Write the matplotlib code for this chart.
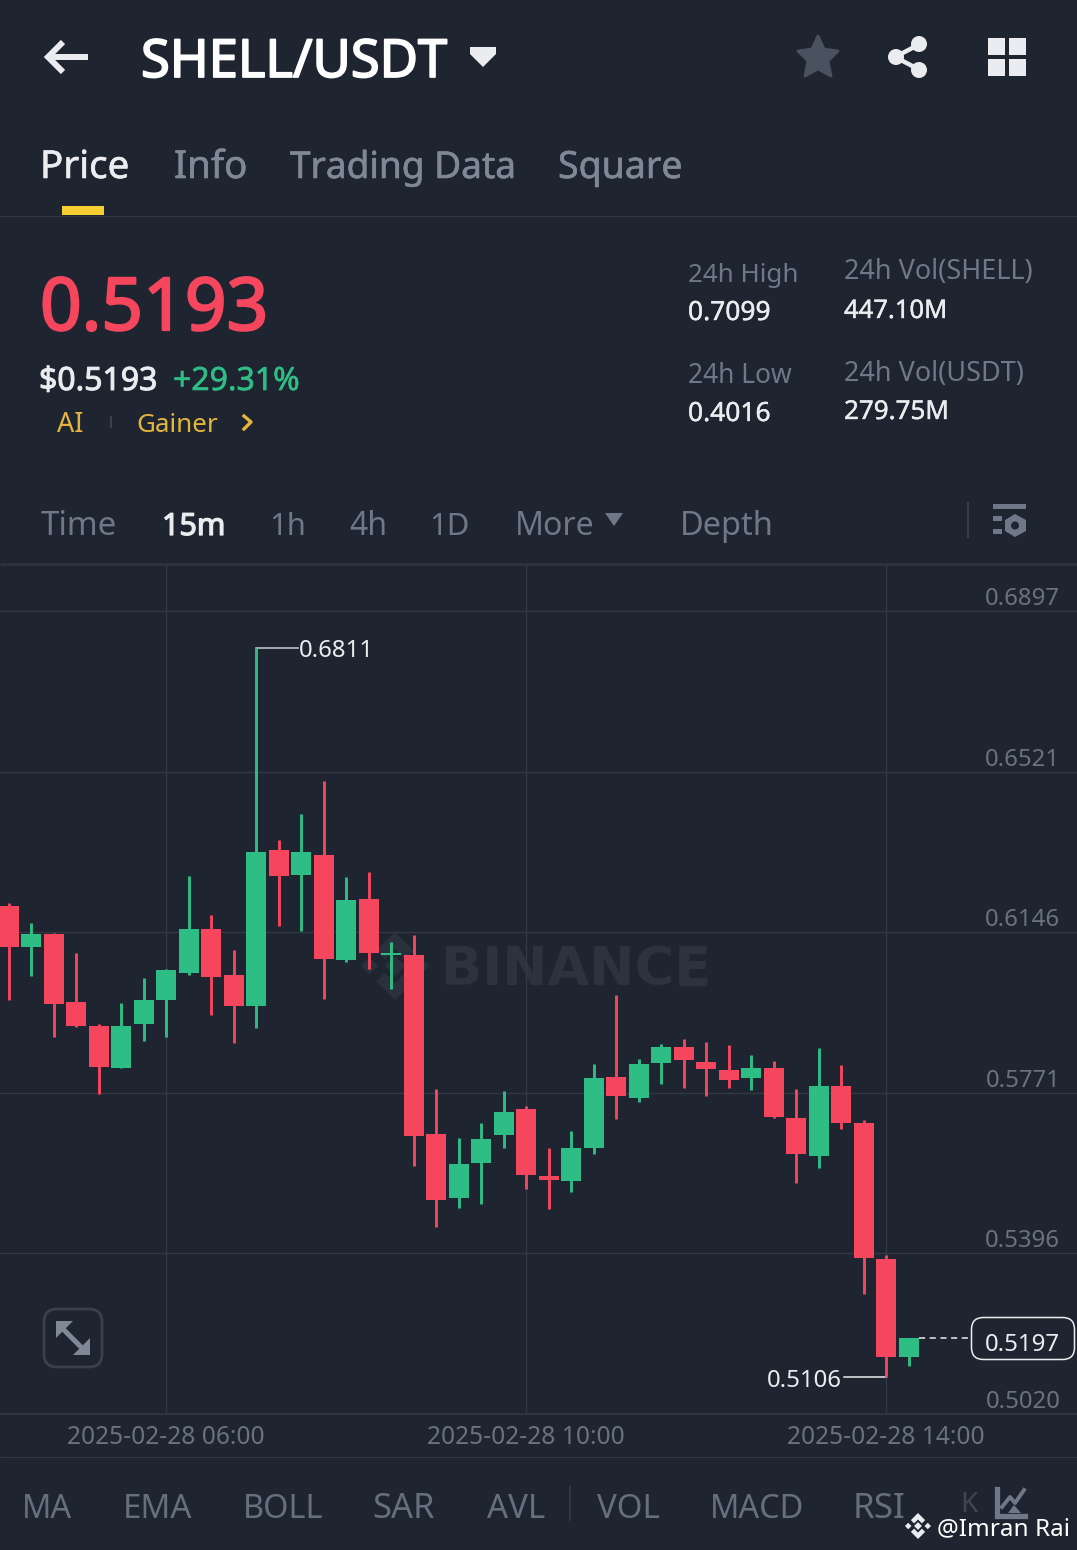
import matplotlib
matplotlib.use('Agg')
import matplotlib.pyplot as plt
import matplotlib.patheffects as pe
from matplotlib.patches import Polygon, Circle, Rectangle, FancyBboxPatch

plt.rcParams['font.family'] = ['Noto Sans', 'DejaVu Sans']

# 15m candles, oldest first
opens = [0.6207, 0.6112, 0.6142, 0.5984, 0.5926, 0.5830, 0.5932, 0.5988, 0.6051, 0.6154, 0.6046,
         0.5974, 0.6338, 0.6281, 0.6327, 0.6082, 0.6224, 0.6093, 0.6093, 0.5674, 0.5525, 0.5607,
         0.5673, 0.5732, 0.5577, 0.5565, 0.5642, 0.5807, 0.5759, 0.5840, 0.5879, 0.5844, 0.5824,
         0.5805, 0.5829, 0.5711, 0.5623, 0.5786, 0.5700, 0.5382, 0.5154]
closes = [0.6112, 0.6142, 0.5978, 0.5927, 0.5831, 0.5928, 0.5987, 0.6058, 0.6154, 0.6041, 0.5974,
          0.6335, 0.6277, 0.6334, 0.6084, 0.6221, 0.6099, 0.6099, 0.5671, 0.5520, 0.5604, 0.5662,
          0.5727, 0.5579, 0.5567, 0.5642, 0.5805, 0.5764, 0.5839, 0.5879, 0.5848, 0.5826, 0.5801,
          0.5830, 0.5714, 0.5627, 0.5787, 0.5700, 0.5385, 0.5154, 0.5197]
highs = [0.6215, 0.6168, 0.6145, 0.6098, 0.5932, 0.5980, 0.6039, 0.6060, 0.6277, 0.6186, 0.6105,
         0.6811, 0.6361, 0.6423, 0.6500, 0.6275, 0.6287, 0.6124, 0.6140, 0.5779, 0.5665, 0.5700,
         0.5775, 0.5740, 0.5642, 0.5682, 0.5839, 0.5999, 0.5850, 0.5886, 0.5897, 0.5889, 0.5882,
         0.5859, 0.5846, 0.5779, 0.5875, 0.5835, 0.5707, 0.5392, 0.5197]
lows = [0.5988, 0.6045, 0.5901, 0.5925, 0.5768, 0.5829, 0.5893, 0.5901, 0.6046, 0.5954, 0.5888,
        0.5923, 0.6161, 0.6149, 0.5991, 0.6077, 0.6060, 0.6013, 0.5600, 0.5458, 0.5501, 0.5512,
        0.5643, 0.5547, 0.5500, 0.5540, 0.5627, 0.5710, 0.5750, 0.5792, 0.5782, 0.5764, 0.5783,
        0.5778, 0.5712, 0.5561, 0.5594, 0.5686, 0.5301, 0.5106, 0.5132]

price_ticks = [0.5020, 0.5396, 0.5771, 0.6146, 0.6521, 0.6897]
time_ticks = [7, 23, 39]
time_labels = ['2025-02-28 06:00', '2025-02-28 10:00', '2025-02-28 14:00']
last_price = 0.5197

tab_labels = ['Price', 'Info', 'Trading Data', 'Square']
interval_labels = ['Time', '15m', '1h', '4h', '1D', 'More', 'Depth']
indicator_labels = ['MA', 'EMA', 'BOLL', 'SAR', 'AVL', 'VOL', 'MACD', 'RSI']

BG = '#1E2530'
GRID = '#323944'
RED = '#F6465D'
GREEN = '#2EBD85'
TICK = '#6A7280'
GREY = '#666F7D'
TAB = '#7F8896'
STAT = '#6F7888'
WHITE = '#EAECEF'
GOLD = '#E3B53C'

fig = plt.figure(figsize=(10.77, 15.5), dpi=100, facecolor=BG)

# page axes in pixels, y going down
ui = fig.add_axes([0, 0, 1, 1], zorder=0)
ui.set_xlim(0, 1077)
ui.set_ylim(1550, 0)
ui.axis('off')


def label(x, y, s, px, color, stroke=0, ha='left', **kw):
    t = ui.text(x, y, s, fontsize=px * 0.72, color=color, ha=ha, va='baseline', **kw)
    # this Noto Sans has no heavier cut, thicken it by hand
    if stroke:
        t.set_path_effects([pe.withStroke(linewidth=stroke * 0.72, foreground=color)])
    return t


def hline(x0, x1, y, color=GRID, lw=1.0):
    ui.plot([x0, x1], [y, y], color=color, lw=lw * 0.72, solid_capstyle='butt')


def logo(cx, cy, r, color):
    ui.add_patch(Polygon([(cx - r * .3, cy), (cx, cy - r * .3), (cx + r * .3, cy), (cx, cy + r * .3)], color=color, lw=0))
    ui.add_patch(Polygon([(cx - r, cy), (cx - r * .75, cy - r * .25), (cx - r * .5, cy), (cx - r * .75, cy + r * .25)], color=color, lw=0))
    ui.add_patch(Polygon([(cx + r, cy), (cx + r * .75, cy - r * .25), (cx + r * .5, cy), (cx + r * .75, cy + r * .25)], color=color, lw=0))
    for s in (-1, 1):
        ui.add_patch(Polygon([(cx, cy + s * r), (cx - r * .55, cy + s * r * .45), (cx - r * .3, cy + s * r * .2),
                              (cx, cy + s * r * .5), (cx + r * .3, cy + s * r * .2), (cx + r * .55, cy + s * r * .45)],
                             color=color, lw=0))


# header
ui.plot([88, 49], [57, 57], color=WHITE, lw=4.3, solid_capstyle='butt')
ui.plot([63, 48, 63], [42, 57, 72], color=WHITE, lw=4.3, solid_capstyle='butt', solid_joinstyle='miter')
label(141, 77, 'SHELL/USDT', 52.5, '#FFFFFF', stroke=1.8)
ui.add_patch(Polygon([(470, 47), (496, 47), (496, 54), (483, 67), (470, 54)], color=WHITE, lw=0))

star = [(818, 36), (824, 49), (838, 51), (828, 61), (831, 76), (818, 69), (805, 76), (808, 61), (798, 51), (812, 49)]
ui.add_patch(Polygon(star, facecolor='#4A525F', edgecolor='#4A525F', lw=2, joinstyle='round'))
ui.plot([920, 895, 920], [44, 57, 70], color=WHITE, lw=3.2)
ui.add_patch(Circle((919, 44), 8, color=WHITE, lw=0))
ui.add_patch(Circle((896, 57), 8, color=WHITE, lw=0))
ui.add_patch(Circle((919, 70), 8, color=WHITE, lw=0))
for sx, sy in [(988, 38), (1009, 38), (988, 59), (1009, 59)]:
    ui.add_patch(Rectangle((sx, sy), 17, 17, color=WHITE, lw=0))

tab_x = [40, 174, 290, 558]
tab_px = [38.5, 38.5, 37, 37.5]
for i, s in enumerate(tab_labels):
    label(tab_x[i], 178, s, tab_px[i], WHITE if i == 0 else TAB, stroke=0.6)
ui.add_patch(Rectangle((62, 206), 42, 9, color='#F5CE32', lw=0))
hline(0, 1077, 215.5)

# price block
label(40, 330, '0.5193', 73, RED, stroke=2.2)
label(39, 390, '$0.5193', 32, WHITE, stroke=1)
label(173, 390, '+29.31%', 32, GREEN, stroke=0.6)
label(57, 432, 'AI', 27, GOLD)
label(136, 432, 'Gainer', 26, GOLD)
ui.plot([111, 111], [417, 427], color='#3A414C', lw=1.5)
ui.plot([244, 251, 244], [416, 422, 429], color=GOLD, lw=2.4)

label(688, 282, '24h High', 26, STAT)
label(688, 320, '0.7099', 26.4, WHITE, stroke=0.4)
label(844, 279, '24h Vol(SHELL)', 27, STAT)
label(844, 318, '447.10M', 25.6, WHITE, stroke=0.4)
label(688, 383, '24h Low', 26.4, STAT)
label(688, 421, '0.4016', 26.4, WHITE, stroke=0.4)
label(844, 381, '24h Vol(USDT)', 27, STAT)
label(844, 419, '279.75M', 26, WHITE, stroke=0.4)

# interval row
interval_x = [41, 162, 269, 349, 429, 515, 680]
interval_px = [33, 30.5, 31, 32, 31, 32, 32.5]
for i, s in enumerate(interval_labels):
    if s == '15m':
        label(interval_x[i], 535, s, interval_px[i], WHITE, stroke=1.3)
    else:
        label(interval_x[i], 535, s, interval_px[i], STAT)
ui.add_patch(Polygon([(605, 513), (623, 513), (614, 526)], color=STAT, lw=0))
ui.plot([968, 968], [503, 537], color='#363D48', lw=1.6)
ui.add_patch(Rectangle((993, 504), 33, 5, color=STAT, lw=0))
ui.add_patch(Rectangle((993, 516), 9, 5, color=STAT, lw=0))
ui.add_patch(Rectangle((993, 529), 9, 5, color=STAT, lw=0))
ui.add_patch(Polygon([(1015, 514), (1026, 520), (1026, 531), (1015, 537), (1005, 531), (1005, 520)], color=STAT, lw=0))
ui.add_patch(Circle((1015, 525.5), 4, color=BG, lw=0))
hline(0, 1077, 563.5, '#2B323C', 3)

# watermark sits under the candles
label(441, 985, 'BINANCE', 54, '#2C333E', family='DejaVu Sans', fontweight='bold')
logo(395, 966, 34, '#2A313C')

# expand button
ui.add_patch(FancyBboxPatch((44, 1309), 58, 58, boxstyle='round,pad=0,rounding_size=13', facecolor='none', edgecolor='#3A414C', lw=2))
ui.plot([62, 84], [1328, 1350], color=TAB, lw=3.6)
ui.add_patch(Polygon([(56, 1321), (73, 1321), (56, 1338)], color=TAB, lw=0))
ui.add_patch(Polygon([(90, 1355), (73, 1355), (90, 1338)], color=TAB, lw=0))

# last price box
ui.add_patch(FancyBboxPatch((971.5, 1317.5), 103, 42, boxstyle='round,pad=0,rounding_size=12', facecolor=BG, edgecolor=WHITE, lw=1.1))

# indicator row
hline(0, 1077, 1456.5)
indicator_x = [22, 123, 243, 372, 487, 597, 710, 853]
indicator_px = [32.5, 33, 32.5, 34.5, 33, 33, 32.5, 35]
for i, s in enumerate(indicator_labels):
    label(indicator_x[i], 1518, s, indicator_px[i], GREY)
label(960, 1512, 'K', 28, '#3F4651')
ui.plot([570, 570], [1486, 1520], color='#333A45', lw=1.2)
ui.plot([997, 997, 1025], [1489, 1516, 1516], color=STAT, lw=3.8, solid_joinstyle='miter')
ui.plot([1002, 1010, 1015, 1024], [1507, 1497, 1503, 1490], color=STAT, lw=2.8)
ui.add_patch(Polygon([(1008, 1513), (1014, 1505), (1021, 1513)], color=STAT, lw=0))
logo(918, 1526, 13, WHITE)
label(937, 1535, '@Imran Rai', 24.3, '#FFFFFF')

# candle chart
ax = fig.add_axes([0, (1550 - 1414) / 1550, 1, 849 / 1550], zorder=1)
ax.patch.set_visible(False)
ax.set_xlim(-0.378, 47.49)
ax.set_ylim(0.5020, 0.7005)
for sp in ['top', 'left', 'right']:
    ax.spines[sp].set_visible(False)
ax.spines['bottom'].set_color(GRID)
ax.spines['bottom'].set_linewidth(1.2)
ax.grid(True, color=GRID, lw=1.0)
ax.set_axisbelow(True)
ax.set_xticks(time_ticks)
ax.set_xticklabels(time_labels)
ax.set_yticks(price_ticks)
ax.set_yticklabels(['%.4f' % p for p in price_ticks])
ax.yaxis.tick_right()
ax.tick_params(axis='x', length=0, pad=8, labelsize=24.6 * 0.72, labelcolor=TICK)
ax.tick_params(axis='y', length=0, pad=-12, labelsize=24 * 0.72, labelcolor=TICK)
for t in ax.get_yticklabels():
    t.set_ha('right')
    t.set_va('bottom')

for i in range(len(opens)):
    col = GREEN if closes[i] >= opens[i] else RED
    ax.vlines(i + 0.02, lows[i], highs[i], color=col, lw=2.1, zorder=3)
    ax.bar(i + 0.02, abs(closes[i] - opens[i]), bottom=min(opens[i], closes[i]), width=0.89, color=col, lw=0, zorder=4)

# high / low / last markers
top = highs.index(max(highs))
bottom = lows.index(min(lows))
ax.plot([top, top + 1.85], [highs[top], highs[top]], color='#C9CED6', lw=1.1, zorder=2)
ax.annotate('%.4f' % highs[top], (top + 1.9, highs[top]), xytext=(0, -2.2), textcoords='offset points',
            color=WHITE, fontsize=24 * 0.72, va='center', ha='left')
ax.plot([bottom - 1.85, bottom], [lows[bottom], lows[bottom]], color=WHITE, lw=1.1, zorder=2)
ax.annotate('%.4f' % lows[bottom], (bottom - 1.95, lows[bottom]), xytext=(0, -3), textcoords='offset points',
            color=WHITE, fontsize=24 * 0.72, va='center', ha='right')
last = len(closes) - 1
ax.plot([last + 0.45, last + 2.75], [last_price, last_price], color=WHITE, lw=1.1, ls=(0, (4, 3)), zorder=2)
ax.annotate('%.4f' % last_price, (45.05, last_price), xytext=(0, -5), textcoords='offset points',
            color=WHITE, fontsize=24 * 0.72, va='center', ha='center', zorder=6)

fig.savefig('out.png', dpi=100, facecolor=BG)
